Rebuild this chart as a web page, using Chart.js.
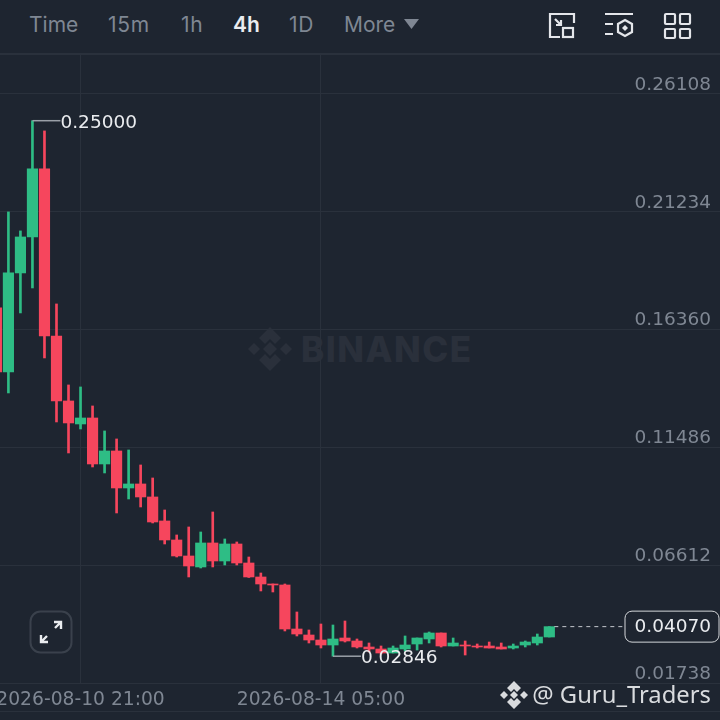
<!DOCTYPE html>
<html>
<head>
<meta charset="utf-8">
<script src="https://cdn.jsdelivr.net/npm/chart.js@4/dist/chart.umd.min.js"></script>
<style>
  html, body { margin: 0; padding: 0; background: #1e2530; }
  #page { position: relative; width: 720px; height: 720px; overflow: hidden; background: #1e2530; font-family: Inter, sans-serif; }
  #chart { position: absolute; left: 0; top: 55px; width: 720px; height: 665px; }
  #toolbar { position: absolute; left: 0; top: 0; width: 720px; height: 53px; border-bottom: 2px solid #2a313c; box-sizing: content-box; }
  #toolbar span { position: absolute; top: 12px; font-size: 21px; line-height: 26px; color: #7f8793; }
  #toolbar span.num { letter-spacing: 0.7px; }
  #toolbar span.active { color: #eaecef; font-weight: 600; }
  #toolbar svg, .ico { position: absolute; }
  #bottomline { position: absolute; left: 0; top: 711px; width: 720px; height: 1px; background: #2a313c; }
  #brand { position: absolute; left: 301px; top: 328px; font-size: 35px; line-height: 42px; font-weight: 800; letter-spacing: 1.5px; color: #2a303b; font-family: Inter, sans-serif; }
  #credit { position: absolute; right: 9px; top: 678px; font-size: 23.8px; line-height: 32px; color: #d9dbde; font-family: "Noto Sans", sans-serif; }
</style>
</head>
<body>
<div id="page">
  <div id="toolbar">
    <span style="left:29px">Time</span>
    <span style="left:108px" class="num">15m</span>
    <span style="left:181px" class="num">1h</span>
    <span style="left:233px" class="active">4h</span>
    <span style="left:289px" class="num">1D</span>
    <span style="left:344px">More</span>
    <svg style="left:404px;top:19px" width="15" height="11"><path d="M0 0H15L7.5 10Z" fill="#7f8793"/></svg>
    <svg style="left:546px;top:10px" width="32" height="32" fill="none" stroke="#e4e6ea" stroke-width="2.2">
      <path d="M14 27H4V4H28V13M9 9L15 15M15 10V15H10"/><rect x="17" y="18" width="10" height="9"/>
    </svg>
    <svg style="left:603px;top:10px" width="32" height="32" fill="none" stroke="#e4e6ea" stroke-width="2.2">
      <path d="M2 4H30M2 14H10M2 24H10M22 10L29 14V22L22 26L15 22V14Z"/><path d="M22 15L25 18L22 21L19 18Z" fill="#e4e6ea" stroke="none"/>
    </svg>
    <svg style="left:662px;top:10px" width="32" height="32" fill="none" stroke="#e4e6ea" stroke-width="2.2">
      <rect x="3" y="4" width="10" height="10" rx="1"/><rect x="18" y="4" width="10" height="10" rx="1"/>
      <rect x="3" y="19" width="10" height="9" rx="1"/><rect x="18" y="19" width="10" height="9" rx="1"/>
    </svg>
  </div>
  <svg class="ico" style="left:248px;top:327px" width="44" height="44" fill="#2a303b">
    <path d="M22 0L33 11L27 17L22 12L17 17L11 11Z"/><path d="M22 44L33 33L27 27L22 32L17 27L11 33Z"/>
    <path d="M0 22L6 16L12 22L6 28Z"/><path d="M44 22L38 16L32 22L38 28Z"/><path d="M22 15L29 22L22 29L15 22Z"/>
  </svg>
  <div id="brand">BINANCE</div>
  <div id="bottomline"></div>
  <canvas id="chart" width="720" height="665"></canvas>
  <svg class="ico" style="left:29px;top:610px" width="44" height="44" fill="none">
    <rect x="1.5" y="1.5" width="41" height="41" rx="10" stroke="#3a414c" stroke-width="2"/>
    <path d="M26 18L32 12M25 12H32V19M18 26L12 32M12 25V32H19" stroke="#eaecef" stroke-width="2.4"/>
  </svg>
  <svg class="ico" style="left:500px;top:681px" width="28" height="28" fill="#d9dbde">
    <path d="M14 0L21 7L17 11L14 8L11 11L7 7Z"/><path d="M14 28L21 21L17 17L14 20L11 17L7 21Z"/>
    <path d="M0 14L4 10L8 14L4 18Z"/><path d="M28 14L24 10L20 14L24 18Z"/><path d="M14 10L18 14L14 18L10 14Z"/>
  </svg>
  <div id="credit">@ Guru_Traders</div>
</div>
<script>
// candle values, oldest first, one candle every 4 hours
const opens = [0.17254, 0.14606, 0.18702, 0.20191, 0.23005, 0.16095, 0.13406, 0.12454, 0.12702, 0.10799,
  0.11337, 0.09806, 0.09972, 0.09434, 0.08441, 0.07655, 0.06993, 0.06538, 0.07531, 0.06786,
  0.07489, 0.06703, 0.06124, 0.05834, 0.05793, 0.03972, 0.03724, 0.03517, 0.03310, 0.03600,
  0.03476, 0.03228, 0.03145, 0.02979, 0.03145, 0.03352, 0.03559, 0.03807, 0.03269, 0.03310,
  0.03269, 0.03269, 0.03228, 0.03186, 0.03310, 0.03393, 0.03641];
const closes = [0.14606, 0.18702, 0.20191, 0.23005, 0.16095, 0.13406, 0.12496, 0.12702, 0.10799, 0.11337,
  0.09806, 0.09972, 0.09434, 0.08399, 0.07655, 0.06993, 0.06579, 0.07531, 0.06786, 0.07489,
  0.06703, 0.06124, 0.05834, 0.05793, 0.03972, 0.03765, 0.03517, 0.03310, 0.03559, 0.03476,
  0.03228, 0.03145, 0.02979, 0.03186, 0.03310, 0.03600, 0.03807, 0.03269, 0.03393, 0.03269,
  0.03228, 0.03186, 0.03145, 0.03269, 0.03434, 0.03641, 0.04070];
const highs = [0.17585, 0.21226, 0.20440, 0.25000, 0.24577, 0.17419, 0.14068, 0.13985, 0.13199, 0.12165,
  0.11834, 0.11378, 0.10758, 0.10220, 0.08896, 0.07862, 0.08193, 0.07986, 0.08813, 0.07696,
  0.07572, 0.06951, 0.06289, 0.05834, 0.05834, 0.04676, 0.03931, 0.04179, 0.04138, 0.04303,
  0.03559, 0.03393, 0.03269, 0.03269, 0.03683, 0.03600, 0.03848, 0.03807, 0.03600, 0.03476,
  0.03352, 0.03434, 0.03393, 0.03352, 0.03476, 0.03765, 0.04070];
const lows = [0.14275, 0.13737, 0.17047, 0.18081, 0.15185, 0.12537, 0.11254, 0.12247, 0.10675, 0.10427,
  0.08772, 0.09351, 0.09020, 0.08358, 0.07489, 0.06951, 0.06124, 0.06496, 0.06538, 0.06620,
  0.06620, 0.06103, 0.05545, 0.05503, 0.03890, 0.03683, 0.03393, 0.03186, 0.02846, 0.03434,
  0.03186, 0.03021, 0.02938, 0.02979, 0.03062, 0.03103, 0.03393, 0.03228, 0.03269, 0.02896,
  0.03186, 0.03186, 0.03145, 0.03145, 0.03228, 0.03310, 0.03641];

const priceTicks = [0.01738, 0.06612, 0.11486, 0.16360, 0.21234, 0.26108];
const timeTickIndexes = [7, 27];
const timeTickLabels = ["2026-08-10 21:00", "2026-08-14 05:00"];
const highIndex = 3;
const lowIndex = 28;
const lastIndex = 46;

const UP = "#2ebd85";
const DOWN = "#f6465d";
const GRID = "#2a313c";
const AXIS_TEXT = "#7f8793";
const FLAG_TEXT = "#eaecef";
const FONT = '"DejaVu Sans", sans-serif';

const candleColors = closes.map((c, i) => (c >= opens[i] ? UP : DOWN));

// price flags drawn on top of the candles
const priceFlags = {
  id: "priceFlags",
  afterDatasetsDraw(chart) {
    const ctx = chart.ctx;
    const x = chart.scales.x;
    const y = chart.scales.y;
    ctx.save();
    ctx.font = "18.5px " + FONT;
    ctx.textBaseline = "middle";
    ctx.textAlign = "left";
    ctx.lineWidth = 1.5;

    ctx.strokeStyle = "#9aa0a8";
    const hx = x.getPixelForValue(highIndex);
    const hy = y.getPixelForValue(highs[highIndex]);
    ctx.beginPath();
    ctx.moveTo(hx, hy);
    ctx.lineTo(hx + 28, hy);
    ctx.stroke();
    ctx.fillStyle = FLAG_TEXT;
    ctx.fillText(highs[highIndex].toFixed(5), hx + 28, hy + 2);

    const lx = x.getPixelForValue(lowIndex);
    const ly = y.getPixelForValue(lows[lowIndex]);
    ctx.beginPath();
    ctx.moveTo(lx, ly);
    ctx.lineTo(lx + 28, ly);
    ctx.stroke();
    ctx.fillText(lows[lowIndex].toFixed(5), lx + 28, ly + 2);

    // last price line and box
    const px = x.getPixelForValue(lastIndex);
    const py = y.getPixelForValue(closes[lastIndex]);
    ctx.setLineDash([4, 4]);
    ctx.lineWidth = 1;
    ctx.strokeStyle = "#c5c8cd";
    ctx.beginPath();
    ctx.moveTo(px + 5, py);
    ctx.lineTo(625, py);
    ctx.stroke();
    ctx.setLineDash([]);
    ctx.fillStyle = "#1e2530";
    ctx.strokeStyle = "#d5d7da";
    ctx.beginPath();
    ctx.roundRect(625, py - 15.5, 94, 31, 7);
    ctx.fill();
    ctx.stroke();
    ctx.fillStyle = FLAG_TEXT;
    ctx.textAlign = "right";
    ctx.fillText(closes[lastIndex].toFixed(5), 711, py + 1);
    ctx.restore();
  },
};

new Chart(document.getElementById("chart").getContext("2d"), {
  type: "bar",
  data: {
    datasets: [
      {
        label: "wick",
        data: highs.map((h, i) => ({ x: i, y: [lows[i], h] })),
        backgroundColor: candleColors,
        barThickness: 2,
        grouped: false,
        order: 2,
      },
      {
        label: "body",
        data: opens.map((o, i) => ({ x: i, y: [o, closes[i]] })),
        backgroundColor: candleColors,
        barThickness: 10.5,
        grouped: false,
        order: 1,
      },
    ],
  },
  options: {
    responsive: false,
    animation: false,
    layout: { padding: 0 },
    plugins: { legend: { display: false }, tooltip: { enabled: false } },
    scales: {
      x: {
        type: "linear",
        offset: false,
        min: 0.3,
        max: 60.2,
        border: { display: true, color: GRID },
        grid: { color: GRID, offset: false, drawTicks: false },
        afterBuildTicks(scale) {
          scale.ticks = timeTickIndexes.map(v => ({ value: v }));
        },
        afterFit(scale) {
          scale.height = 37;
          scale.paddingLeft = 0;
          scale.paddingRight = 0;
        },
        ticks: {
          autoSkip: false,
          maxRotation: 0,
          padding: 6,
          color: AXIS_TEXT,
          font: { family: FONT, size: 18.7 },
          callback: v => timeTickLabels[timeTickIndexes.indexOf(v)],
        },
      },
      y: {
        position: "right",
        min: 0.01738,
        max: 0.27718,
        border: { display: false },
        grid: { color: GRID, drawTicks: false },
        afterBuildTicks(scale) {
          scale.ticks = priceTicks.map(v => ({ value: v }));
        },
        afterFit(scale) {
          scale.width = 0;
          scale.paddingTop = 0;
          scale.paddingBottom = 0;
        },
        ticks: {
          mirror: true,
          padding: -9,
          labelOffset: -9,
          color: AXIS_TEXT,
          font: { family: FONT, size: 18.5 },
          callback: v => v.toFixed(5),
        },
      },
    },
  },
  plugins: [priceFlags],
});
</script>
</body>
</html>
